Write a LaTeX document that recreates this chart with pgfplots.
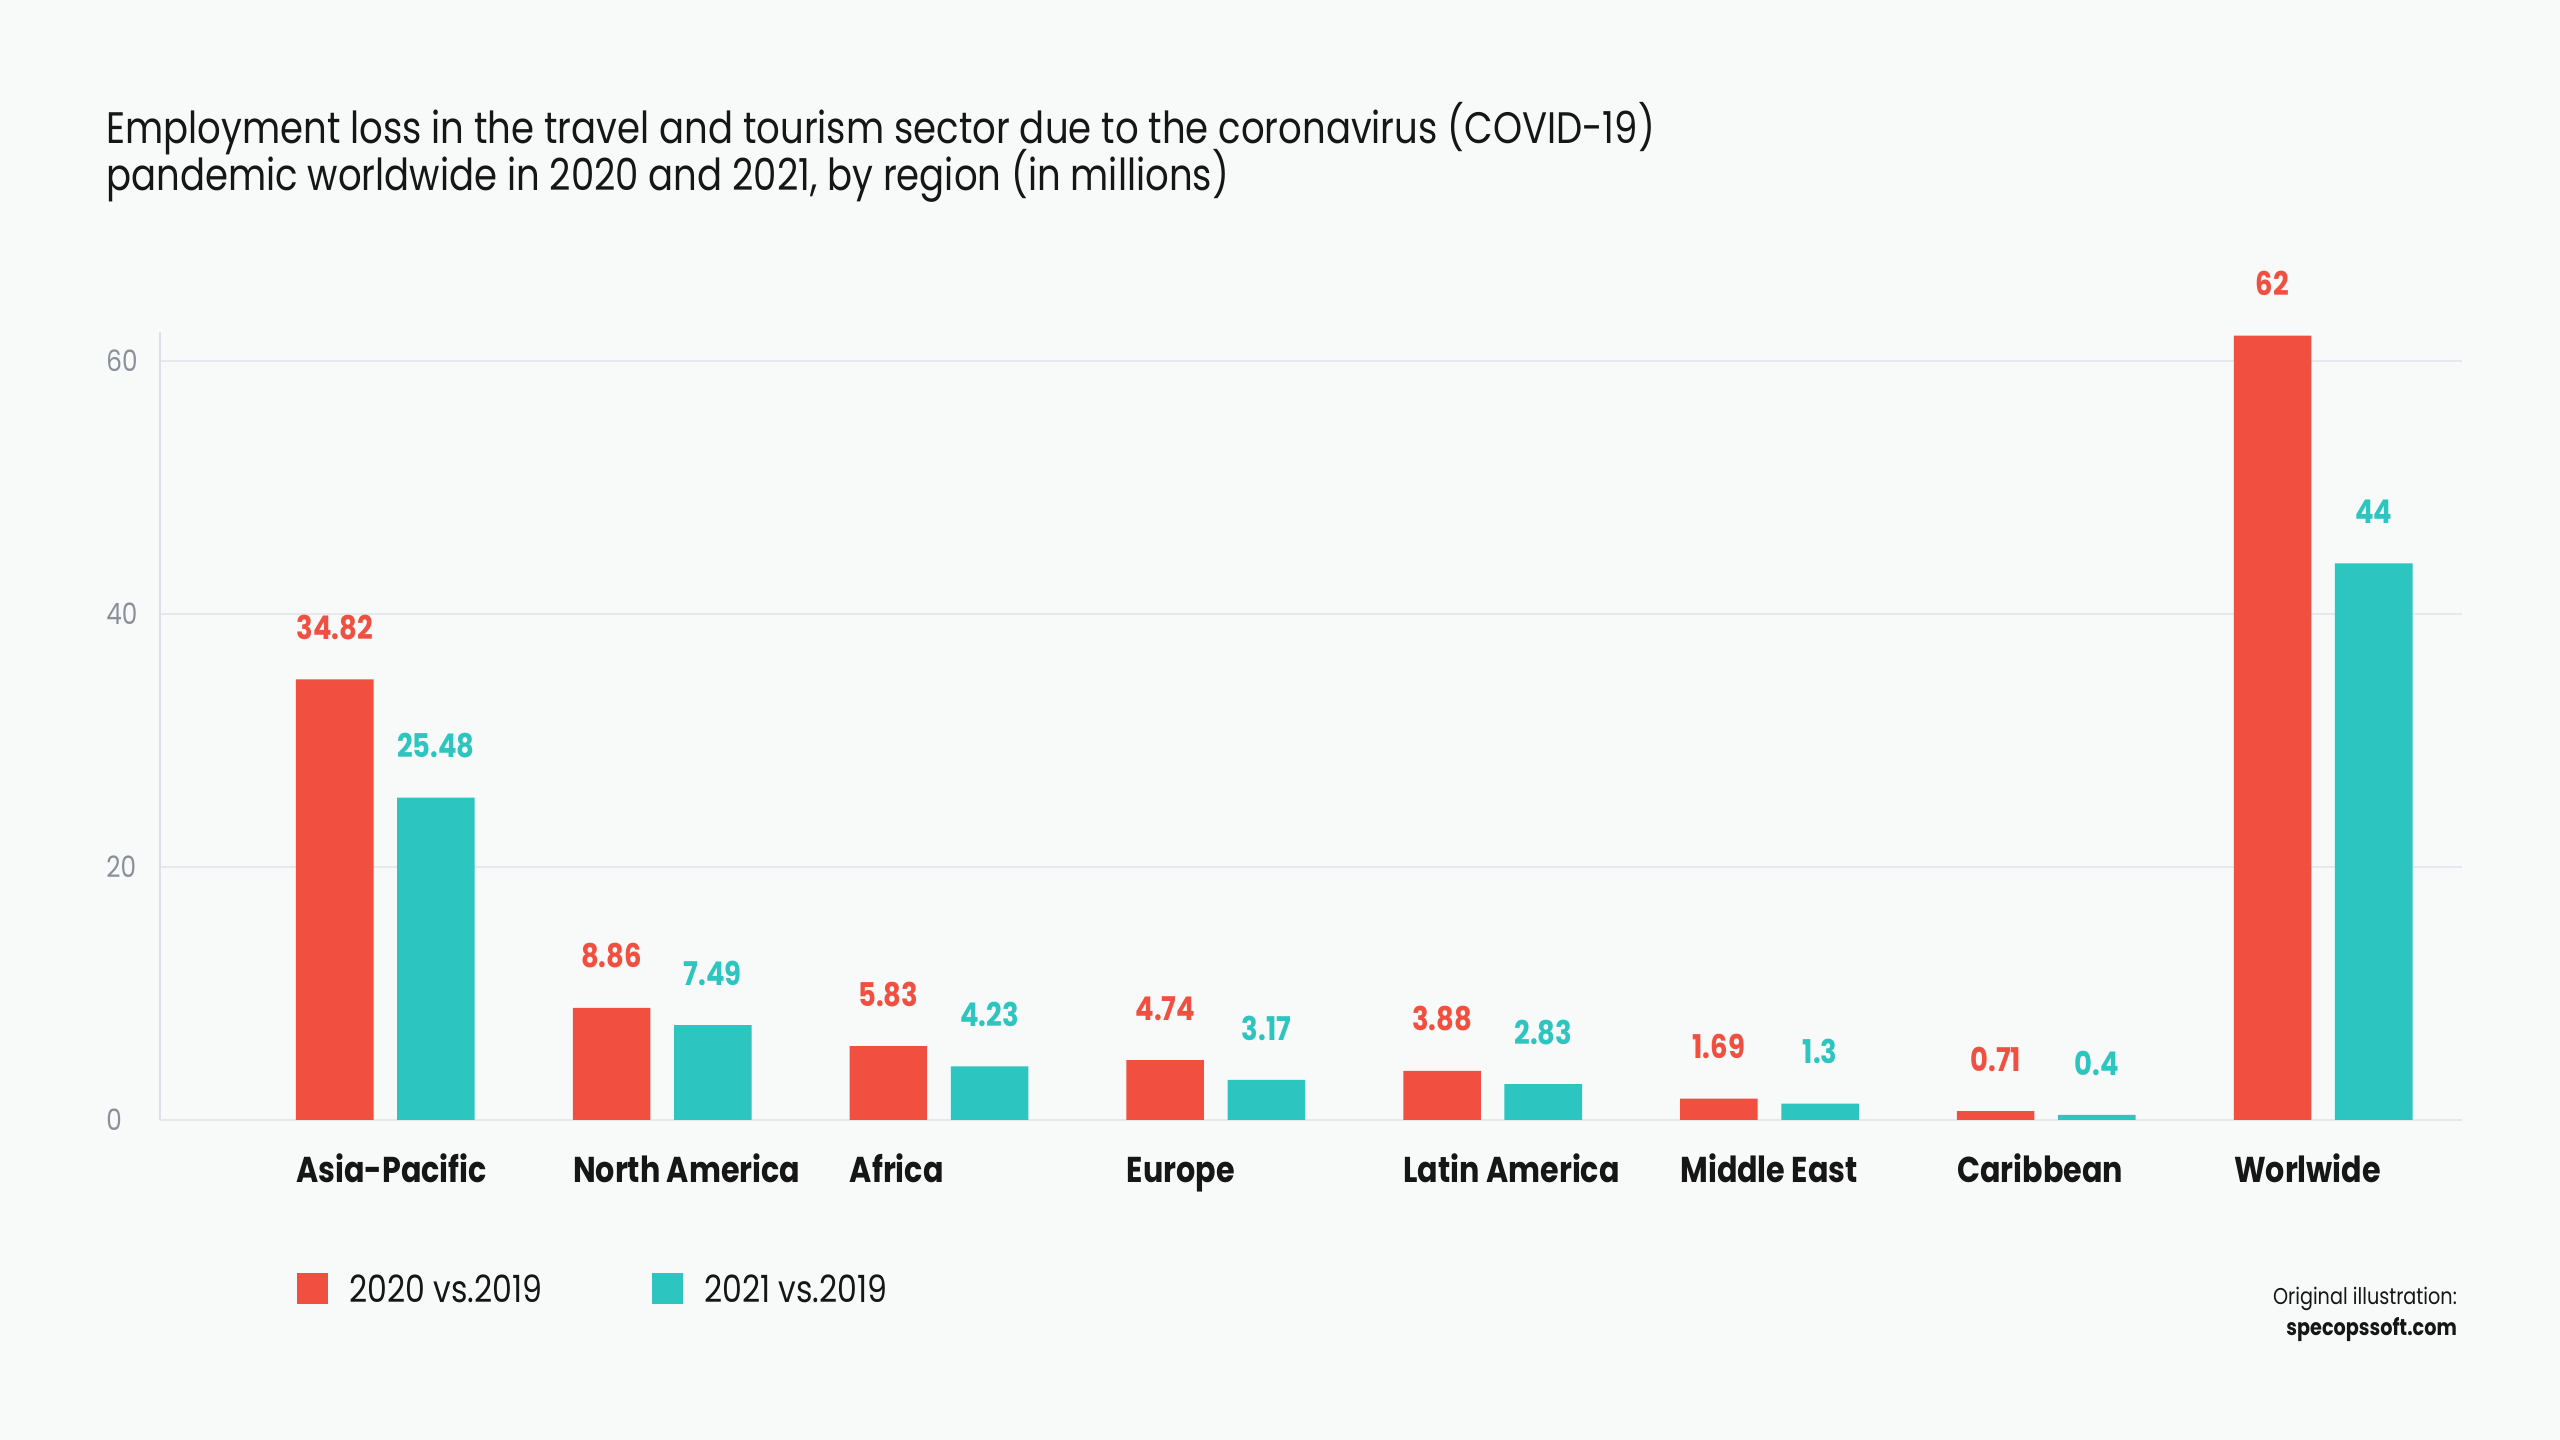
\documentclass[border=0pt]{standalone}
\usepackage{fontspec}
\setmainfont{Poppins}[FakeStretch=0.84]
\usepackage{pgfplots}
\usepackage{pgfplotstable}
\pgfplotsset{compat=1.18}
\definecolor{bg}{HTML}{F8F9F9}
\definecolor{redc}{HTML}{F14F40}
\definecolor{tealc}{HTML}{2CC5BF}
\definecolor{gridc}{HTML}{E6E8EE}
\definecolor{axisc}{HTML}{DDE0E7}
\definecolor{tickc}{HTML}{8A8F99}
\definecolor{titlec}{HTML}{161616}

\pgfplotstableread{
x y2020 y2021
0 34.82 25.48
1 8.86 7.49
2 5.83 4.23
3 4.74 3.17
4 3.88 2.83
5 1.69 1.3
6 0.71 0.4
7 62 44
}\data

\begin{document}
\begin{tikzpicture}
\useasboundingbox (0pt,0pt) rectangle (1568pt,882pt);
\fill[bg] (0pt,0pt) rectangle (1568pt,882pt);
\node[anchor=base west, inner sep=0pt, text=titlec, font=\fontsize{27}{30}\selectfont] at (65pt,794pt) {Employment loss in the travel and tourism sector due to the coronavirus (COVID-19)};
\node[anchor=base west, inner sep=0pt, text=titlec, font=\fontsize{27}{30}\selectfont] at (65pt,765pt) {pandemic worldwide in 2020 and 2021, by region (in millions)};
\node[anchor=base east, inner sep=0pt, text=titlec, font=\fontsize{14}{16}\selectfont] at (1505pt,83pt) {Original illustration:};
\node[anchor=base east, inner sep=0pt, text=titlec, font=\bfseries\fontsize{14}{16}\selectfont] at (1505pt,64pt) {specopssoft.com};
\begin{axis}[
  at={(98pt,196pt)}, anchor=south west,
  scale only axis, width=1410pt, height=482.8pt,
  xmin=-0.814, xmax=7.502, ymin=0, ymax=62.3,
  ybar,
  axis lines=left,
  axis line style={draw=axisc, line width=1pt, -},
  x axis line style={draw=gridc},
  ymajorgrids, grid style={draw=gridc, line width=1pt},
  major tick length=0pt, tick style={draw=none},
  ytick={0,20,40,60},
  xtick={0,1,2,3,4,5,6,7},
  xticklabels={Asia-Pacific,North America,Africa,Europe,Latin America,Middle East,Caribbean,Worlwide},
  /pgf/number format/assume math mode=true,
  yticklabel style={font=\fontsize{18}{18}\selectfont, text=tickc, inner sep=0pt, anchor=west, xshift=-33pt},
  xticklabel style={font=\bfseries\fontsize{22}{22}\selectfont, text=titlec, inner sep=0pt, anchor=base west, xshift=-54.75pt, yshift=-38pt},
  legend style={at={(axis description cs:0.0596,-0.1947)}, anchor=north west, draw=none, fill=none, inner sep=0pt, outer sep=0pt,
    font=\fontsize{23}{23}\selectfont, text=titlec,
    nodes={inner sep=0pt, anchor=base west},
    /tikz/every odd column/.append style={column sep=13pt},
    /tikz/every even column/.append style={column sep=67pt}},
  legend columns=2,
  clip=false,
]
\addplot[bar width=47.5pt, bar shift=-31pt, fill=redc, draw=none,
  nodes near coords,
  every node near coord/.append style={text=redc, font=\bfseries\fontsize{20}{20}\selectfont, inner sep=0pt, yshift=24pt},
  legend image code/.code={\fill[redc] (0pt,-1pt) rectangle (19pt,18pt);}]
  table[x=x,y=y2020]{\data};
\addlegendentry{2020 vs.2019}
\addplot[bar width=47.5pt, bar shift=31pt, fill=tealc, draw=none,
  nodes near coords,
  every node near coord/.append style={text=tealc, font=\bfseries\fontsize{20}{20}\selectfont, inner sep=0pt, yshift=24pt},
  legend image code/.code={\fill[tealc] (0pt,-1pt) rectangle (19pt,18pt);}]
  table[x=x,y=y2021]{\data};
\addlegendentry{2021 vs.2019}
\end{axis}
\end{tikzpicture}
\end{document}
